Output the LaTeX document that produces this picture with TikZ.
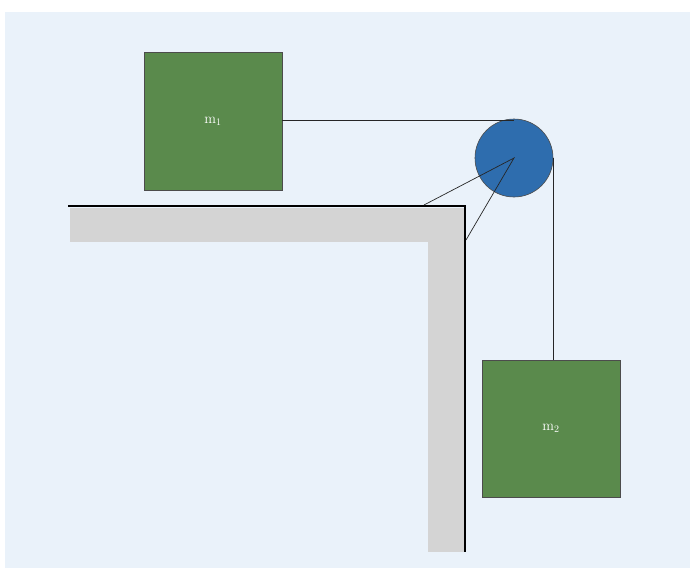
\documentclass[tikz,border=0pt]{standalone}
\begin{document}
\begin{tikzpicture}[x=1pt,y=-1pt,
  mass/.style={draw=black!70,fill=massgreen,line width=0.6pt},
  rope/.style={draw=black!85,line width=0.7pt}]
\definecolor{bg}{HTML}{EAF2FA}
\definecolor{massgreen}{HTML}{5A8A4C}
\definecolor{pulleyblue}{HTML}{2E6DAE}
\definecolor{wallgray}{HTML}{D4D4D4}
\useasboundingbox (0,0) rectangle (696,578);
\fill[white] (0,0) rectangle (696,578);
\fill[bg] (5,12) rectangle (690,568);
% table
\fill[wallgray] (70,208) rectangle (465,242);
\fill[wallgray] (428,208) rectangle (465,552);
\draw[line width=2.2pt] (68,206) -- (465,206) -- (465,552);
% pulley
\node[circle,draw=black!70,fill=pulleyblue,minimum size=78pt,inner sep=0pt,line width=0.6pt] (p) at (514,158) {};
\coordinate (pc) at (514,158);
\coordinate (s1) at (424,205);
\coordinate (s2) at (466,240);
\draw[rope] (s1) -- (pc) -- (s2);
% masses
\node[mass,minimum width=138pt,minimum height=138pt] (m1) at (213,121) {};
\node[mass,minimum width=138pt,minimum height=137pt] (m2) at (551,428.5) {};
\node[text=white,font=\Large] at (m1) {m$_1$};
\node[text=white,font=\Large] at (m2) {m$_2$};
\coordinate (pt) at (514,120.5);
\coordinate (pr) at (553,158);
\draw[rope] (m1.east |- 0,120.5) -- (pt);
\draw[rope] (pr) -- (m2.north -| pr);
\end{tikzpicture}
\end{document}
